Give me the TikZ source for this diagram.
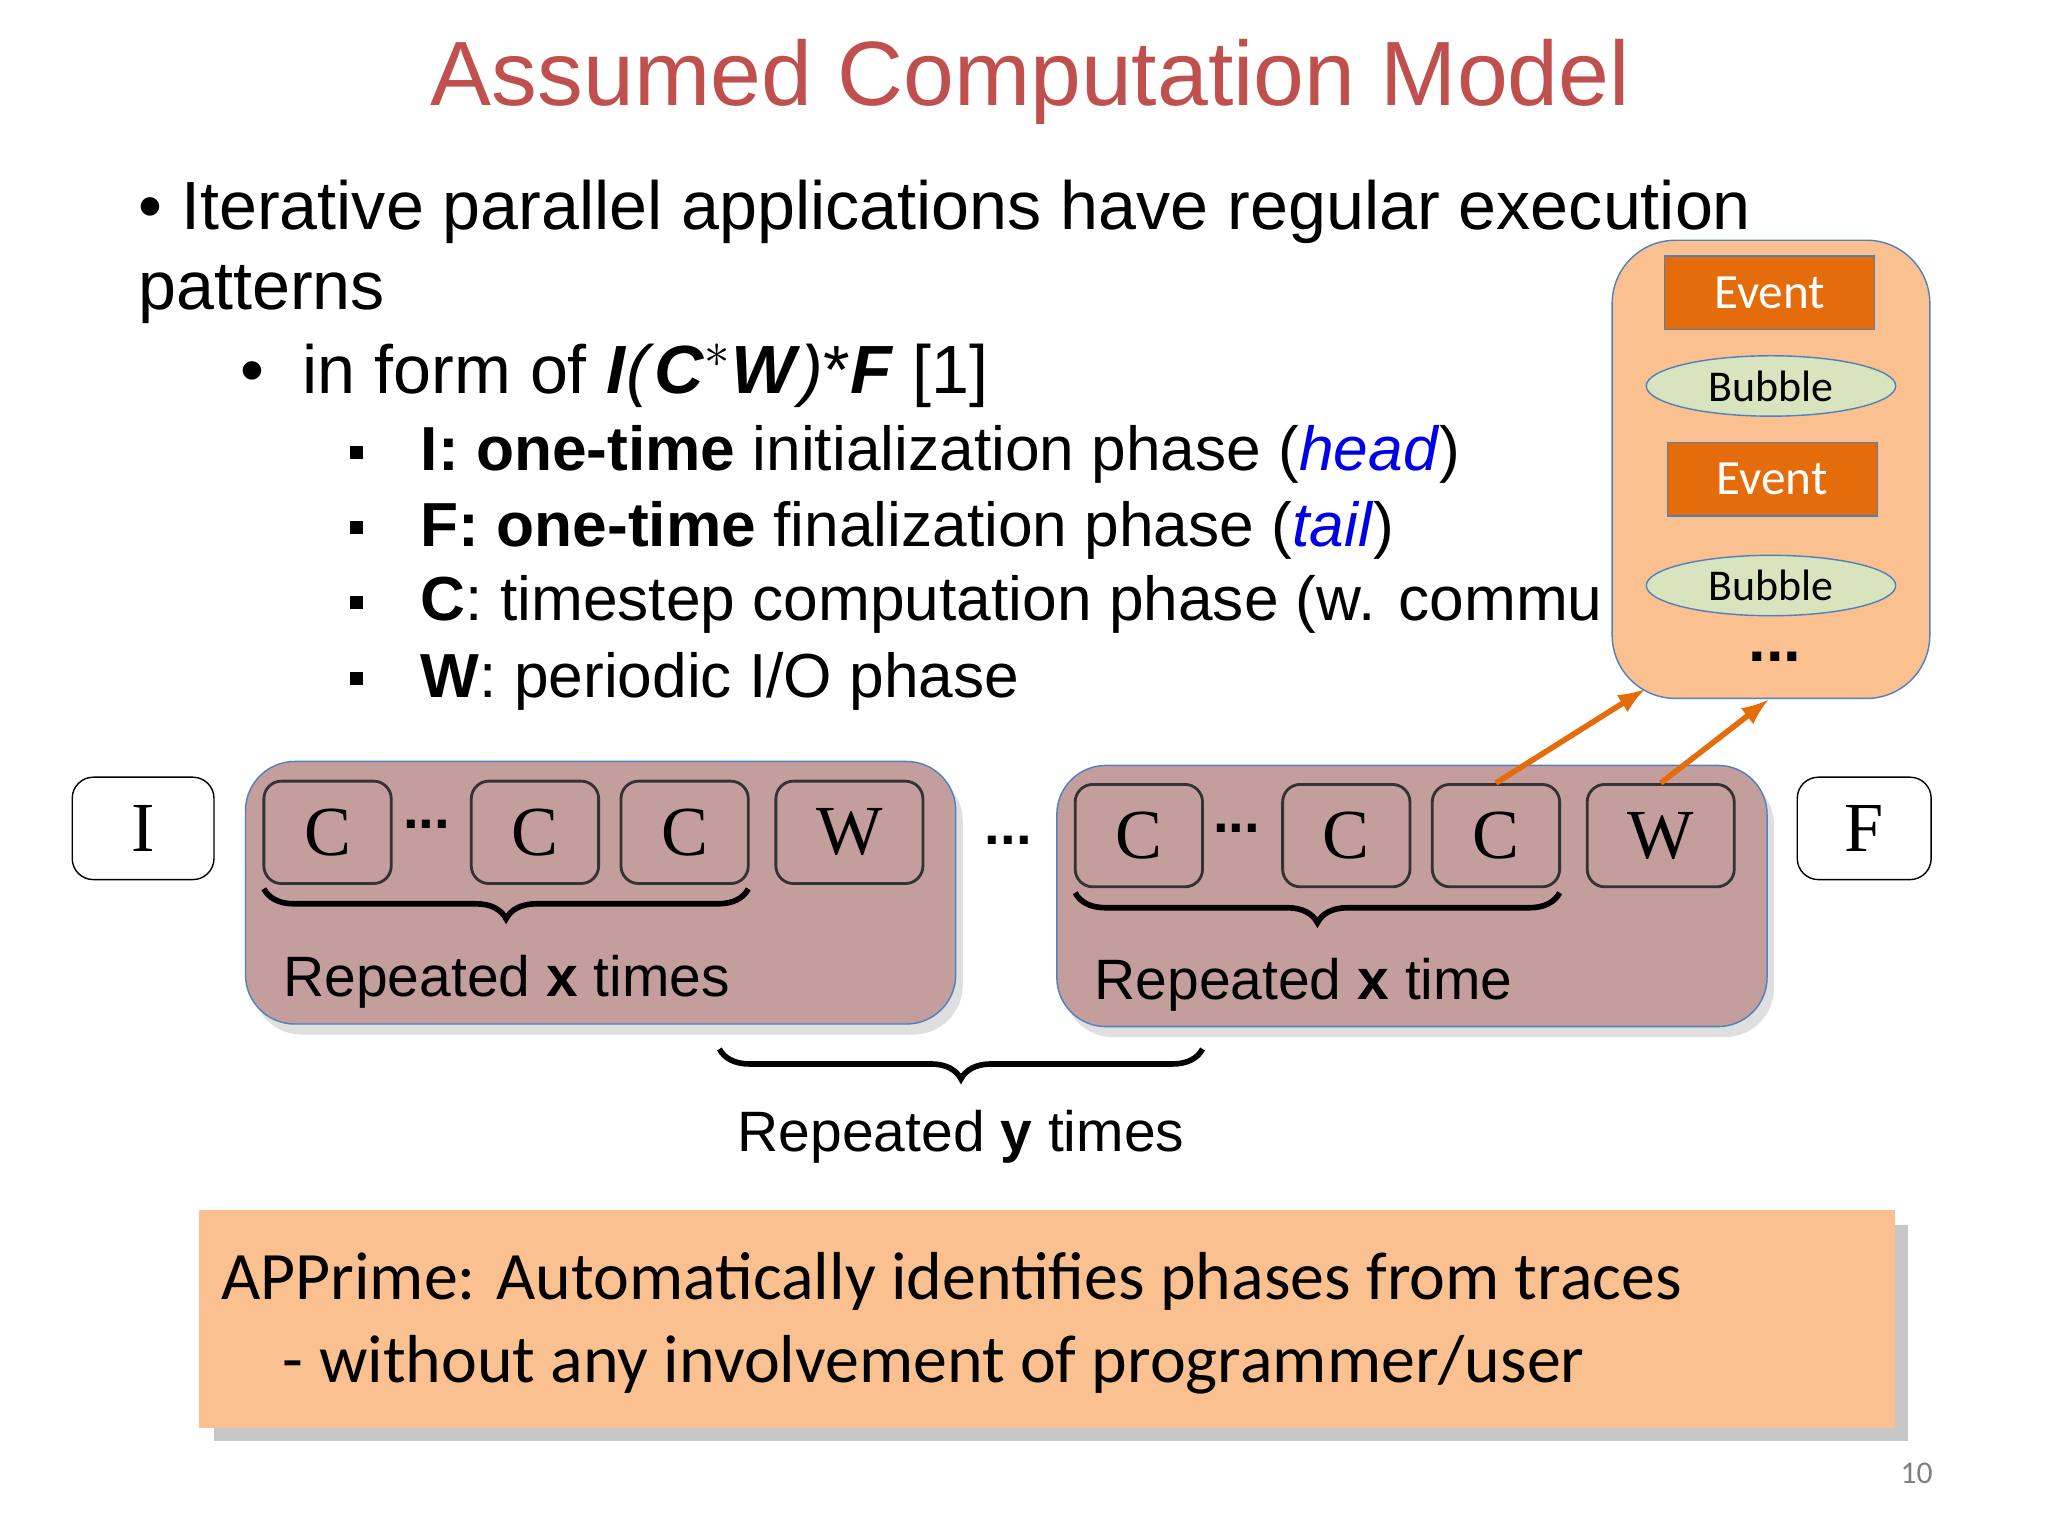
\documentclass[tikz,border=0pt]{standalone}
\usepackage{fontspec}
\setmainfont{Liberation Sans}
\newfontfamily\boxfont{Liberation Serif}
\newfontfamily\calfont{Carlito}
\usetikzlibrary{shadows,decorations.pathreplacing,shapes.geometric}
\definecolor{titlered}{RGB}{192,80,77}
\definecolor{peach}{RGB}{250,192,143}
\definecolor{evorange}{RGB}{228,108,10}
\definecolor{bubgreen}{RGB}{215,228,189}
\definecolor{rose}{RGB}{196,157,157}
\definecolor{edgeblue}{RGB}{79,129,189}
\definecolor{linkblue}{RGB}{0,0,230}
\begin{document}
\begin{tikzpicture}[x=0.013128cm,y=-0.013128cm,
  phase/.style={draw=black!80,thick,rounded corners=5pt,minimum width=97*0.013128cm,minimum height=78*0.013128cm,font=\boxfont\fontsize{20pt}{22pt}\selectfont,inner sep=0pt},
  group/.style={draw=edgeblue,fill=rose,rounded corners=14pt,drop shadow={opacity=0.25,shadow xshift=2pt,shadow yshift=-3pt}},
  event/.style={draw=edgeblue,fill=evorange,text=white,minimum width=160*0.013128cm,minimum height=56*0.013128cm,font=\calfont\fontsize{14pt}{16pt}\selectfont,inner sep=0pt},
  bubble/.style={draw=edgeblue,fill=bubgreen,ellipse,minimum width=190*0.013128cm,minimum height=46*0.013128cm,font=\calfont\fontsize{12.5pt}{14pt}\selectfont,inner sep=0pt},
  brc/.style={decorate,decoration={brace,mirror,amplitude=0.3cm},line width=1.6pt},
  lbl/.style={font=\fontsize{16.2pt}{18pt}\selectfont,inner sep=0pt},
  line1/.style={anchor=base west,inner sep=0pt,font=\fontsize{19.4pt}{22pt}\selectfont},
  line2/.style={anchor=base west,inner sep=0pt,font=\fontsize{17.7pt}{20pt}\selectfont},
  arr/.style={-latex,evorange,line width=1.6pt}]
\useasboundingbox (0,0) rectangle (1560,1170);

% title and bullets
\node[anchor=base,text=titlered,font=\fontsize{26pt}{28pt}\selectfont,inner sep=0pt] (title) at (785,80) {Assumed Computation Model};
\node[line1] (b1) at (105,175) {• Iterative parallel applications have regular execution};
\node[line1] (b1b) at (105,236) {patterns};
\node[line1] (b2d) at (183,300) {•};
\node[line1] (b2) at (230,300) {in form of \textbf{\textit{I}}\textit{(}\textbf{\textit{C}}$^{*}$\textbf{\textit{W}}\textit{)}*\textbf{\textit{F}} [1]};
\foreach \yy/\nm in {350/s1,407/s2,464/s3,522/s4}
  \node[anchor=base west,inner sep=0pt] (\nm) at (266,\yy) {\rule{0.13cm}{0.13cm}};
\node[line2] (t1) at (320,358) {\textbf{I: one-time} initialization phase (\textcolor{linkblue}{\textit{head}})};
\node[line2] (t2) at (320,416) {\textbf{F: one-time} finalization phase (\textcolor{linkblue}{\textit{tail}})};
\node[line2] (t3) at (320,473) {\textbf{C}: timestep computation phase (w. commu};
\node[line2] (t4) at (320,531) {\textbf{W}: periodic I/O phase};

% event/bubble panel
\draw[draw=edgeblue,fill=peach,rounded corners=18pt] (1228,183) rectangle (1470,532);
\node[event] (e1) at (1348,223) {Event};
\node[bubble] (u1) at (1349,294) {Bubble};
\node[event] (e2) at (1350,365) {Event};
\node[bubble] (u2) at (1349,446) {Bubble};
\node[font=\bfseries\fontsize{18pt}{20pt}\selectfont,inner sep=0pt] (pd) at (1352,500) {...};
\coordinate (p1) at (1253,525);
\coordinate (p2) at (1347,533);

% I and F
\node[draw=black,rounded corners=6pt,minimum width=108*0.013128cm,minimum height=78*0.013128cm,font=\boxfont\fontsize{20pt}{22pt}\selectfont] (I) at (109,631) {I};
\node[draw=black,rounded corners=6pt,minimum width=102*0.013128cm,minimum height=78*0.013128cm,font=\boxfont\fontsize{20pt}{22pt}\selectfont] (F) at (1420,631) {F};

% group 1
\draw[group] (187,580) rectangle (728,780);
\node[phase] (c11) at (249.5,634) {C};
\node[phase] (c12) at (407.5,634) {C};
\node[phase] (c13) at (521.5,634) {C};
\node[phase,minimum width=112*0.013128cm] (w1) at (647,634) {W};
\node[font=\bfseries\fontsize{16pt}{18pt}\selectfont,inner sep=0pt] (d1) at (325,628) {...};
\draw[brc] (201,677) -- (570,677);
\node[lbl] (r1) at (386,748) {Repeated \textbf{x} times};

\node[font=\bfseries\fontsize{16pt}{18pt}\selectfont,inner sep=0pt] (dm) at (768,640) {...};

% group 2
\draw[group] (805,583) rectangle (1346,782);
\node[phase] (c21) at (867.5,636.5) {C};
\node[phase] (c22) at (1025.5,636.5) {C};
\node[phase] (c23) at (1139.5,636.5) {C};
\node[phase,minimum width=112*0.013128cm] (w2) at (1265,636.5) {W};
\node[font=\bfseries\fontsize{16pt}{18pt}\selectfont,inner sep=0pt] (d2) at (942,631) {...};
\draw[brc] (819,680) -- (1188,680);
\node[lbl] (r2) at (993,750) {Repeated \textbf{x} time};

\draw[arr] (c23.north) -- (p1);
\draw[arr] (w2.north) -- (p2);

% outer brace
\draw[brc] (548,799) -- (916,799);
\node[lbl] (ry) at (732,866) {Repeated \textbf{y} times};

% bottom box
\draw[fill=peach,draw=peach,drop shadow={opacity=0.45,shadow xshift=4pt,shadow yshift=-4pt}] (152,922) rectangle (1443,1087);
\node[anchor=base west,inner sep=0pt,font=\calfont\fontsize{19.3pt}{21pt}\selectfont] (ap1) at (168,990) {APPrime: Automatically identifies phases from traces};
\node[anchor=base west,inner sep=0pt,font=\calfont\fontsize{19.3pt}{21pt}\selectfont] (ap2) at (215,1053) {- without any involvement of programmer/user};
\node[text=black!50,font=\calfont\fontsize{9pt}{10pt}\selectfont,inner sep=0pt] (pg) at (1460,1122) {10};
\end{tikzpicture}
\end{document}
